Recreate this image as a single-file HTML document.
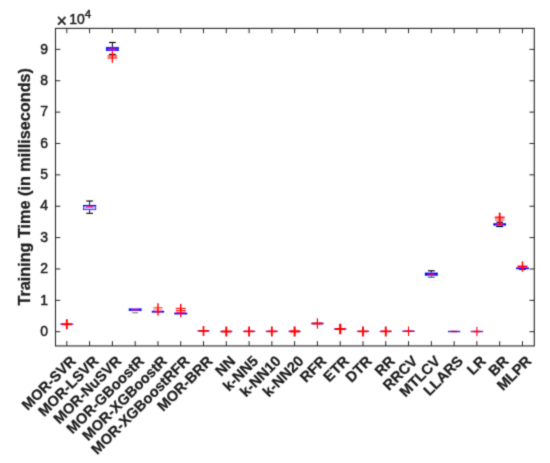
<!DOCTYPE html>
<html><head><meta charset="utf-8"><title>Training Time</title>
<style>
html,body{margin:0;padding:0;background:#fff;}
body{width:550px;height:463px;overflow:hidden;}
svg{display:block;}
text{font-family:"Liberation Sans",Arial,Helvetica,sans-serif;fill:#1c1c1c;stroke:#1c1c1c;stroke-width:0.45px;}
.b{font-weight:bold;stroke-width:0.25px;}
</style></head><body>
<svg width="550" height="463" viewBox="0 0 550 463">
<rect width="550" height="463" fill="#fff"/>
<defs><filter id="bl" x="0" y="0" width="550" height="463" filterUnits="userSpaceOnUse"><feConvolveMatrix order="3" kernelMatrix="0.0225 0.105 0.0225 0.105 0.49 0.105 0.0225 0.105 0.0225" edgeMode="none"/></filter></defs>
<g filter="url(#bl)">

<g stroke="#262626" stroke-width="1.0" fill="none">
<rect x="55.5" y="28.4" width="478.80" height="317.55" stroke-width="1.1"/>
<path d="M66.82 345.95v-4.8M66.82 28.4v4.8"/>
<path d="M89.6 345.95v-4.8M89.6 28.4v4.8"/>
<path d="M112.38 345.95v-4.8M112.38 28.4v4.8"/>
<path d="M135.17 345.95v-4.8M135.17 28.4v4.8"/>
<path d="M157.95 345.95v-4.8M157.95 28.4v4.8"/>
<path d="M180.73 345.95v-4.8M180.73 28.4v4.8"/>
<path d="M203.51 345.95v-4.8M203.51 28.4v4.8"/>
<path d="M226.29 345.95v-4.8M226.29 28.4v4.8"/>
<path d="M249.08 345.95v-4.8M249.08 28.4v4.8"/>
<path d="M271.86 345.95v-4.8M271.86 28.4v4.8"/>
<path d="M294.64 345.95v-4.8M294.64 28.4v4.8"/>
<path d="M317.42 345.95v-4.8M317.42 28.4v4.8"/>
<path d="M340.2 345.95v-4.8M340.2 28.4v4.8"/>
<path d="M362.99 345.95v-4.8M362.99 28.4v4.8"/>
<path d="M385.77 345.95v-4.8M385.77 28.4v4.8"/>
<path d="M408.55 345.95v-4.8M408.55 28.4v4.8"/>
<path d="M431.33 345.95v-4.8M431.33 28.4v4.8"/>
<path d="M454.11 345.95v-4.8M454.11 28.4v4.8"/>
<path d="M476.9 345.95v-4.8M476.9 28.4v4.8"/>
<path d="M499.68 345.95v-4.8M499.68 28.4v4.8"/>
<path d="M522.46 345.95v-4.8M522.46 28.4v4.8"/>
<path d="M55.5 331.7h4.8M534.3 331.7h-4.8"/>
<path d="M55.5 300.33h4.8M534.3 300.33h-4.8"/>
<path d="M55.5 268.96h4.8M534.3 268.96h-4.8"/>
<path d="M55.5 237.59h4.8M534.3 237.59h-4.8"/>
<path d="M55.5 206.22h4.8M534.3 206.22h-4.8"/>
<path d="M55.5 174.85h4.8M534.3 174.85h-4.8"/>
<path d="M55.5 143.48h4.8M534.3 143.48h-4.8"/>
<path d="M55.5 112.11h4.8M534.3 112.11h-4.8"/>
<path d="M55.5 80.74h4.8M534.3 80.74h-4.8"/>
<path d="M55.5 49.37h4.8M534.3 49.37h-4.8"/>
</g>
<text transform="translate(48.1,335.90) scale(1,1.1)" font-size="14" text-anchor="end">0</text>
<text transform="translate(48.1,304.53) scale(1,1.1)" font-size="14" text-anchor="end">1</text>
<text transform="translate(48.1,273.16) scale(1,1.1)" font-size="14" text-anchor="end">2</text>
<text transform="translate(48.1,241.79) scale(1,1.1)" font-size="14" text-anchor="end">3</text>
<text transform="translate(48.1,210.42) scale(1,1.1)" font-size="14" text-anchor="end">4</text>
<text transform="translate(48.1,179.05) scale(1,1.1)" font-size="14" text-anchor="end">5</text>
<text transform="translate(48.1,147.68) scale(1,1.1)" font-size="14" text-anchor="end">6</text>
<text transform="translate(48.1,116.31) scale(1,1.1)" font-size="14" text-anchor="end">7</text>
<text transform="translate(48.1,84.94) scale(1,1.1)" font-size="14" text-anchor="end">8</text>
<text transform="translate(48.1,53.57) scale(1,1.1)" font-size="14" text-anchor="end">9</text>
<text x="56.4" y="27.1" font-size="18" stroke-width="0.1">×</text><text transform="translate(69.2,24.2) scale(1,1.1)" font-size="14">10</text><text x="84.8" y="17.7" font-size="11.6">4</text>
<text class="b" font-size="16.23" text-anchor="middle" transform="translate(30.2,186.8) rotate(-90)">Training Time (in milliseconds)</text>
<text class="b" font-size="14.67" text-anchor="end" transform="translate(69.62,354.90) rotate(-45)" dy="10">MOR-SVR</text>
<text class="b" font-size="14.67" text-anchor="end" transform="translate(92.40,354.90) rotate(-45)" dy="10">MOR-LSVR</text>
<text class="b" font-size="14.67" text-anchor="end" transform="translate(115.18,354.90) rotate(-45)" dy="10">MOR-NuSVR</text>
<text class="b" font-size="14.67" text-anchor="end" transform="translate(137.97,354.90) rotate(-45)" dy="10">MOR-GBoostR</text>
<text class="b" font-size="14.67" text-anchor="end" transform="translate(160.75,354.90) rotate(-45)" dy="10">MOR-XGBoostR</text>
<text class="b" font-size="14.67" text-anchor="end" transform="translate(183.53,354.90) rotate(-45)" dy="10">MOR-XGBoostRFR</text>
<text class="b" font-size="14.67" text-anchor="end" transform="translate(206.31,354.90) rotate(-45)" dy="10">MOR-BRR</text>
<text class="b" font-size="14.67" text-anchor="end" transform="translate(229.09,354.90) rotate(-45)" dy="10">NN</text>
<text class="b" font-size="14.67" text-anchor="end" transform="translate(251.88,354.90) rotate(-45)" dy="10">k-NN5</text>
<text class="b" font-size="14.67" text-anchor="end" transform="translate(274.66,354.90) rotate(-45)" dy="10">k-NN10</text>
<text class="b" font-size="14.67" text-anchor="end" transform="translate(297.44,354.90) rotate(-45)" dy="10">k-NN20</text>
<text class="b" font-size="14.67" text-anchor="end" transform="translate(320.22,354.90) rotate(-45)" dy="10">RFR</text>
<text class="b" font-size="14.67" text-anchor="end" transform="translate(343.00,354.90) rotate(-45)" dy="10">ETR</text>
<text class="b" font-size="14.67" text-anchor="end" transform="translate(365.79,354.90) rotate(-45)" dy="10">DTR</text>
<text class="b" font-size="14.67" text-anchor="end" transform="translate(388.57,354.90) rotate(-45)" dy="10">RR</text>
<text class="b" font-size="14.67" text-anchor="end" transform="translate(411.35,354.90) rotate(-45)" dy="10">RRCV</text>
<text class="b" font-size="14.67" text-anchor="end" transform="translate(434.13,354.90) rotate(-45)" dy="10">MTLCV</text>
<text class="b" font-size="14.67" text-anchor="end" transform="translate(456.91,354.90) rotate(-45)" dy="10">LLARS</text>
<text class="b" font-size="14.67" text-anchor="end" transform="translate(479.70,354.90) rotate(-45)" dy="10">LR</text>
<text class="b" font-size="14.67" text-anchor="end" transform="translate(502.48,354.90) rotate(-45)" dy="10">BR</text>
<text class="b" font-size="14.67" text-anchor="end" transform="translate(525.26,354.90) rotate(-45)" dy="10">MLPR</text>
<g><path d="M60.42 324.20h12.80" stroke="#0000ff" stroke-width="1.3" stroke-opacity="1.0" fill="none"/><path d="M61.82 324.20h10.00M66.82 319.20v10.00" stroke="#ff0000" stroke-width="1.9" stroke-opacity="1.0" fill="none"/></g>
<g><path d="M89.60 201.00V205.20" stroke="#000000" stroke-width="0.9" stroke-opacity="1.0" fill="none"/><path d="M89.60 210.00V213.30" stroke="#000000" stroke-width="0.9" stroke-opacity="1.0" fill="none"/><path d="M86.20 201.00h6.80" stroke="#000000" stroke-width="1.1" stroke-opacity="1.0" fill="none"/><path d="M86.20 213.30h6.80" stroke="#000000" stroke-width="1.1" stroke-opacity="1.0" fill="none"/><rect x="83.10" y="205.00" width="13.00" height="5.00" fill="#0000ff" fill-opacity="0.25" stroke="none"/><path d="M83.10 205.60h13.00" stroke="#0000ff" stroke-width="1.3" stroke-opacity="1.0" fill="none"/><path d="M83.10 209.60h13.00" stroke="#0000ff" stroke-width="1.0" stroke-opacity="0.65" fill="none"/><path d="M83.50 205.20V210.00" stroke="#0000ff" stroke-width="0.9" stroke-opacity="0.7" fill="none"/><path d="M95.70 205.20V210.00" stroke="#0000ff" stroke-width="0.9" stroke-opacity="0.7" fill="none"/><path d="M86.10 206.80h7.00" stroke="#ff0000" stroke-width="1.5" stroke-opacity="0.75" fill="none"/></g>
<g><path d="M112.38 42.50V47.00" stroke="#000000" stroke-width="1.0" stroke-opacity="1.0" fill="none"/><path d="M108.98 42.50h6.80" stroke="#000000" stroke-width="1.15" stroke-opacity="1.0" fill="none"/><path d="M108.98 54.40h6.80" stroke="#000000" stroke-width="1.2" stroke-opacity="1.0" fill="none"/><rect x="105.88" y="46.90" width="13.00" height="4.10" fill="#0000ff" fill-opacity="0.85" stroke="none"/><path d="M109.18 49.30h6.40" stroke="#ff0000" stroke-width="1.3" stroke-opacity="1.0" fill="none"/><path d="M112.38 51.00V62.80" stroke="#ff0000" stroke-width="1.3" stroke-opacity="1.0" fill="none"/><path d="M107.58 55.70h9.60" stroke="#ff0000" stroke-width="1.1" stroke-opacity="0.75" fill="none"/><path d="M107.58 57.00h9.60" stroke="#ff0000" stroke-width="1.1" stroke-opacity="0.75" fill="none"/><path d="M107.58 58.20h9.60" stroke="#ff0000" stroke-width="1.1" stroke-opacity="0.75" fill="none"/></g>
<g><path d="M132.27 312.70h5.80" stroke="#000000" stroke-width="1.2" stroke-opacity="0.5" fill="none"/><rect x="128.72" y="308.40" width="12.90" height="2.50" fill="#0000ff" fill-opacity="0.95" stroke="none"/><path d="M131.97 309.60h6.40" stroke="#ff0000" stroke-width="1.1" stroke-opacity="1.0" fill="none"/></g>
<g><path d="M151.75 311.70h12.40" stroke="#0000ff" stroke-width="1.8" stroke-opacity="1.0" fill="none"/><path d="M154.75 311.70h6.40" stroke="#ff0000" stroke-width="1.3" stroke-opacity="1.0" fill="none"/><path d="M157.95 303.30V315.60" stroke="#ff0000" stroke-width="1.4" stroke-opacity="1.0" fill="none"/><path d="M153.45 307.50h9.00" stroke="#ff0000" stroke-width="1.1" stroke-opacity="0.6" fill="none"/><path d="M153.45 309.00h9.00" stroke="#ff0000" stroke-width="1.1" stroke-opacity="0.6" fill="none"/><path d="M153.45 311.00h9.00" stroke="#ff0000" stroke-width="1.0" stroke-opacity="0.4" fill="none"/></g>
<g><path d="M174.23 313.50h13.00" stroke="#0000ff" stroke-width="1.8" stroke-opacity="1.0" fill="none"/><path d="M180.73 303.90V316.90" stroke="#ff0000" stroke-width="1.5" stroke-opacity="1.0" fill="none"/><path d="M175.73 308.40h10.00" stroke="#ff0000" stroke-width="1.2" stroke-opacity="0.9" fill="none"/><path d="M175.73 310.50h10.00" stroke="#ff0000" stroke-width="1.2" stroke-opacity="0.9" fill="none"/><path d="M175.93 312.30h9.60" stroke="#ff0000" stroke-width="1.1" stroke-opacity="0.8" fill="none"/></g>
<g><path d="M197.41 330.90h12.20" stroke="#0000ff" stroke-width="1.2" stroke-opacity="0.9" fill="none"/><path d="M198.51 330.90h10.00M203.51 325.90v10.00" stroke="#ff0000" stroke-width="1.6" stroke-opacity="1.0" fill="none"/></g>
<g><path d="M220.19 331.50h12.20" stroke="#0000ff" stroke-width="1.2" stroke-opacity="0.9" fill="none"/><path d="M221.29 331.50h10.00M226.29 326.50v10.00" stroke="#ff0000" stroke-width="2.0" stroke-opacity="1.0" fill="none"/></g>
<g><path d="M242.98 331.40h12.20" stroke="#0000ff" stroke-width="1.2" stroke-opacity="0.9" fill="none"/><path d="M244.08 331.40h10.00M249.08 326.40v10.00" stroke="#ff0000" stroke-width="1.8" stroke-opacity="1.0" fill="none"/></g>
<g><path d="M265.76 331.40h12.20" stroke="#0000ff" stroke-width="1.2" stroke-opacity="0.9" fill="none"/><path d="M266.86 331.40h10.00M271.86 326.40v10.00" stroke="#ff0000" stroke-width="1.8" stroke-opacity="1.0" fill="none"/></g>
<g><path d="M288.54 331.40h12.20" stroke="#0000ff" stroke-width="1.2" stroke-opacity="0.9" fill="none"/><path d="M289.64 331.40h10.00M294.64 326.40v10.00" stroke="#ff0000" stroke-width="2.1" stroke-opacity="1.0" fill="none"/></g>
<g><path d="M311.22 323.50h12.40" stroke="#0000ff" stroke-width="1.6" stroke-opacity="0.9" fill="none"/><path d="M312.42 323.50h10.00" stroke="#ff0000" stroke-width="2.0" stroke-opacity="1.0" fill="none"/><path d="M317.42 318.30V328.70" stroke="#ff0000" stroke-width="1.2" stroke-opacity="1.0" fill="none"/></g>
<g><path d="M334.00 329.00h12.40" stroke="#0000ff" stroke-width="1.4" stroke-opacity="0.9" fill="none"/><path d="M335.00 329.00h10.40M340.20 323.80v10.40" stroke="#ff0000" stroke-width="2.2" stroke-opacity="1.0" fill="none"/></g>
<g><path d="M356.89 331.40h12.20" stroke="#0000ff" stroke-width="1.2" stroke-opacity="0.9" fill="none"/><path d="M357.99 331.40h10.00M362.99 326.40v10.00" stroke="#ff0000" stroke-width="1.9" stroke-opacity="1.0" fill="none"/></g>
<g><path d="M379.67 331.40h12.20" stroke="#0000ff" stroke-width="1.2" stroke-opacity="0.9" fill="none"/><path d="M380.77 331.40h10.00M385.77 326.40v10.00" stroke="#ff0000" stroke-width="1.9" stroke-opacity="1.0" fill="none"/></g>
<g><path d="M402.35 331.30h12.40" stroke="#0000ff" stroke-width="1.4" stroke-opacity="0.9" fill="none"/><path d="M404.30 331.30h8.50" stroke="#c00030" stroke-width="1.4" stroke-opacity="1.0" fill="none"/><path d="M403.75 331.30h9.60M408.55 326.50v9.60" stroke="#ff0000" stroke-width="1.1" stroke-opacity="1.0" fill="none"/></g>
<g><path d="M427.93 270.80h6.80" stroke="#000000" stroke-width="1.3" stroke-opacity="0.9" fill="none"/><path d="M431.33 270.80V272.50" stroke="#000000" stroke-width="1.0" stroke-opacity="1.0" fill="none"/><path d="M427.93 277.20h6.80" stroke="#000000" stroke-width="1.3" stroke-opacity="0.6" fill="none"/><path d="M431.33 275.80V277.20" stroke="#000000" stroke-width="1.0" stroke-opacity="0.6" fill="none"/><rect x="424.83" y="272.60" width="13.00" height="3.10" fill="#0000ff" fill-opacity="0.97" stroke="none"/><path d="M428.13 274.40h6.40" stroke="#ff0000" stroke-width="1.1" stroke-opacity="0.8" fill="none"/></g>
<g><path d="M447.91 331.50h12.40" stroke="#0000ff" stroke-width="1.4" stroke-opacity="0.85" fill="none"/><path d="M450.81 331.50h6.60" stroke="#b00030" stroke-width="1.5" stroke-opacity="1.0" fill="none"/></g>
<g><path d="M470.70 331.50h12.40" stroke="#0000ff" stroke-width="1.4" stroke-opacity="0.85" fill="none"/><path d="M473.15 331.50h7.50" stroke="#c00030" stroke-width="1.5" stroke-opacity="1.0" fill="none"/><path d="M472.20 331.50h9.40M476.90 326.80v9.40" stroke="#ff0000" stroke-width="1.1" stroke-opacity="1.0" fill="none"/></g>
<g><path d="M496.48 222.20h6.40" stroke="#000000" stroke-width="1.3" stroke-opacity="1.0" fill="none"/><path d="M496.18 226.40h7.00" stroke="#000000" stroke-width="1.4" stroke-opacity="1.0" fill="none"/><rect x="493.28" y="223.20" width="12.80" height="2.40" fill="#0000ff" fill-opacity="0.97" stroke="none"/><path d="M496.48 224.50h6.40" stroke="#ff0000" stroke-width="1.2" stroke-opacity="1.0" fill="none"/><path d="M499.68 212.70V224.10" stroke="#ff0000" stroke-width="1.8" stroke-opacity="1.0" fill="none"/><path d="M494.68 217.20h10.00" stroke="#ff0000" stroke-width="1.3" stroke-opacity="1.0" fill="none"/><path d="M494.88 218.70h9.60" stroke="#ff0000" stroke-width="1.0" stroke-opacity="0.6" fill="none"/><path d="M494.88 220.10h9.60" stroke="#ff0000" stroke-width="1.0" stroke-opacity="0.65" fill="none"/></g>
<g><path d="M518.96 269.50h7.00" stroke="#000000" stroke-width="1.2" stroke-opacity="0.8" fill="none"/><path d="M516.06 268.30h12.80" stroke="#0000ff" stroke-width="1.7" stroke-opacity="1.0" fill="none"/><path d="M517.46 266.50h10.00" stroke="#ff0000" stroke-width="1.9" stroke-opacity="1.0" fill="none"/><path d="M522.46 261.40V271.60" stroke="#ff0000" stroke-width="1.5" stroke-opacity="1.0" fill="none"/></g>
</g></svg></body></html>
